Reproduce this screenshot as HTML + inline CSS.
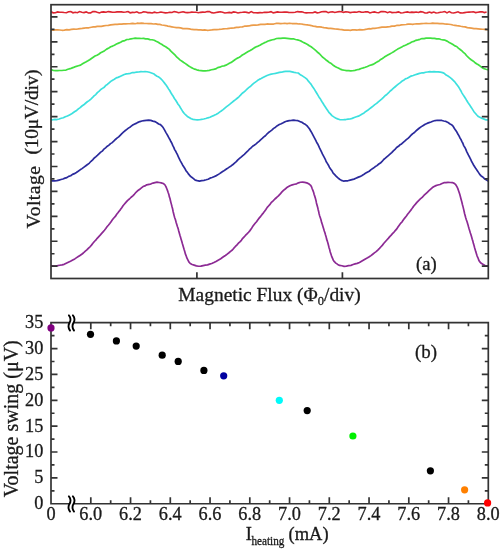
<!DOCTYPE html><html><head><meta charset="utf-8"><style>html,body{margin:0;padding:0;background:#fff;width:504px;height:550px;overflow:hidden}svg{display:block}</style></head><body><svg width="504" height="550" viewBox="0 0 504 550">
<rect width="504" height="550" fill="#fff"/>
<defs><clipPath id="ca"><rect x="51" y="4.7" width="437.3" height="273.8"/></clipPath></defs>
<g clip-path="url(#ca)"><path d="M51.0,11.75 L53.2,12.82 L55.4,12.70 L57.6,11.93 L59.8,12.29 L62.0,12.22 L64.2,12.53 L66.4,12.73 L68.6,11.69 L70.8,11.59 L73.0,12.80 L75.2,12.20 L77.4,12.69 L79.6,11.55 L81.8,12.22 L84.0,12.63 L86.2,11.89 L88.4,12.97 L90.6,12.90 L92.8,11.60 L95.0,11.59 L97.2,12.36 L99.4,12.96 L101.6,12.12 L103.8,11.87 L106.0,12.18 L108.2,11.59 L110.4,11.88 L112.6,12.21 L114.8,12.29 L117.0,11.90 L119.2,11.90 L121.4,11.88 L123.6,12.24 L125.8,11.98 L128.0,11.58 L130.2,12.81 L132.4,12.38 L134.6,12.51 L136.8,11.83 L139.0,13.04 L141.2,12.84 L143.4,11.73 L145.6,12.05 L147.8,12.63 L150.0,12.62 L152.2,12.95 L154.4,12.18 L156.6,12.80 L158.8,12.56 L161.0,12.01 L163.2,12.43 L165.4,12.87 L167.6,12.82 L169.8,12.31 L172.0,12.43 L174.2,11.60 L176.4,11.91 L178.6,12.75 L180.8,12.17 L183.0,11.81 L185.2,12.37 L187.4,12.60 L189.6,12.56 L191.8,12.11 L194.0,12.21 L196.2,12.31 L198.4,12.72 L200.6,12.33 L202.8,12.14 L205.0,12.28 L207.2,11.59 L209.4,11.62 L211.6,12.61 L213.8,13.02 L216.0,12.44 L218.2,12.14 L220.4,11.81 L222.6,12.30 L224.8,13.02 L227.0,12.71 L229.2,12.36 L231.4,12.84 L233.6,11.90 L235.8,12.32 L238.0,12.98 L240.2,12.42 L242.4,12.24 L244.6,11.95 L246.8,12.37 L249.0,12.99 L251.2,11.56 L253.4,12.73 L255.6,12.78 L257.8,12.88 L260.0,12.66 L262.2,12.76 L264.4,12.33 L266.6,12.39 L268.8,12.19 L271.0,11.63 L273.2,12.86 L275.4,12.40 L277.6,11.85 L279.8,12.31 L282.0,12.28 L284.2,12.09 L286.4,12.07 L288.6,12.36 L290.8,12.49 L293.0,12.47 L295.2,12.24 L297.4,11.59 L299.6,11.89 L301.8,11.82 L304.0,12.43 L306.2,12.84 L308.4,12.75 L310.6,12.75 L312.8,12.77 L315.0,11.93 L317.2,12.81 L319.4,12.56 L321.6,11.67 L323.8,11.58 L326.0,11.57 L328.2,12.68 L330.4,11.92 L332.6,11.71 L334.8,12.49 L337.0,12.07 L339.2,11.65 L341.4,11.79 L343.6,12.34 L345.8,11.80 L348.0,11.96 L350.2,12.62 L352.4,12.23 L354.6,12.03 L356.8,12.26 L359.0,11.59 L361.2,12.13 L363.4,12.18 L365.6,11.83 L367.8,11.71 L370.0,12.90 L372.2,12.32 L374.4,11.86 L376.6,12.46 L378.8,12.78 L381.0,11.58 L383.2,11.58 L385.4,11.77 L387.6,12.63 L389.8,11.79 L392.0,12.61 L394.2,12.57 L396.4,12.37 L398.6,11.88 L400.8,13.01 L403.0,12.75 L405.2,12.32 L407.4,11.88 L409.6,12.52 L411.8,12.14 L414.0,12.41 L416.2,12.03 L418.4,12.50 L420.6,11.64 L422.8,12.00 L425.0,13.00 L427.2,12.86 L429.4,12.01 L431.6,12.84 L433.8,12.02 L436.0,12.96 L438.2,12.67 L440.4,12.17 L442.6,11.93 L444.8,11.56 L447.0,12.87 L449.2,11.61 L451.4,12.78 L453.6,12.99 L455.8,12.41 L458.0,11.81 L460.2,12.85 L462.4,13.01 L464.6,12.61 L466.8,12.31 L469.0,12.12 L471.2,12.07 L473.4,11.86 L475.6,12.56 L477.8,12.20 L480.0,11.84 L482.2,11.71 L484.4,12.55 L486.6,11.99" stroke="#dc2430" stroke-width="1.6" fill="none"/><path d="M26.61,26.66 L28.74,26.92 L30.93,27.59 L33.24,27.63 L35.53,28.03 L37.97,28.64 L40.15,28.42 L42.18,28.91 L44.48,28.99 L46.64,29.29 L48.98,29.62 L51.17,29.85 L53.67,30.11 L55.61,29.75 L57.53,29.87 L59.67,30.00 L61.97,30.28 L64.33,30.04 L66.71,29.68 L69.10,29.92 L71.40,29.42 L73.81,29.10 L76.20,29.26 L78.22,28.93 L80.25,28.55 L82.21,28.46 L84.22,28.11 L86.62,27.78 L88.89,27.79 L91.37,27.27 L93.28,26.93 L95.26,26.89 L97.26,26.42 L99.30,26.23 L101.31,26.31 L103.70,25.84 L106.00,25.51 L108.32,25.36 L110.71,24.87 L113.02,24.65 L115.09,24.41 L117.21,24.40 L119.28,24.22 L121.58,24.13 L123.68,23.82 L125.72,23.92 L128.08,23.77 L130.45,23.71 L132.80,23.42 L135.19,23.73 L137.19,23.21 L139.13,23.42 L141.52,23.20 L143.90,23.43 L146.40,23.52 L148.69,23.58 L151.06,23.66 L153.46,23.98 L155.83,23.92 L157.82,24.41 L159.75,24.39 L161.82,24.97 L163.82,25.28 L165.83,25.56 L167.80,26.16 L169.72,26.46 L171.74,26.83 L173.98,27.24 L176.41,27.67 L178.45,27.65 L180.58,27.88 L183.01,28.57 L185.01,28.51 L187.05,28.65 L189.50,28.85 L191.78,29.47 L194.06,29.62 L196.37,29.70 L198.68,29.93 L200.70,29.84 L202.68,30.11 L204.72,29.95 L207.11,30.28 L209.52,30.10 L211.76,29.88 L214.13,29.55 L216.52,29.57 L218.97,29.43 L221.27,29.24 L223.30,28.95 L225.26,28.73 L227.28,28.68 L229.30,28.32 L231.68,28.03 L234.07,27.81 L236.46,27.31 L238.44,27.33 L240.47,26.98 L242.34,26.83 L244.45,26.20 L246.37,26.11 L248.80,25.96 L251.10,25.44 L253.45,25.10 L255.89,25.22 L258.15,24.84 L260.65,24.32 L262.67,24.28 L264.89,24.39 L266.94,23.97 L269.22,24.07 L271.23,24.09 L273.64,24.04 L275.91,23.46 L278.33,23.36 L280.71,23.68 L282.69,23.49 L284.66,23.24 L287.11,23.59 L289.54,23.22 L291.89,23.53 L294.17,23.56 L296.57,23.61 L298.87,23.97 L301.33,24.01 L303.33,24.44 L305.25,24.68 L307.35,24.80 L309.31,25.21 L311.24,25.54 L313.20,26.14 L315.18,26.35 L317.21,26.87 L319.59,26.97 L321.85,27.21 L323.81,27.66 L326.12,27.83 L328.44,28.43 L330.54,28.43 L332.68,28.58 L335.06,29.02 L337.18,29.12 L339.52,29.45 L341.88,29.68 L344.24,30.04 L346.15,30.15 L348.21,30.00 L350.21,30.29 L352.57,29.89 L355.03,29.84 L357.27,30.03 L359.67,29.67 L362.08,29.78 L364.40,29.57 L366.82,29.19 L368.80,28.71 L370.75,28.85 L372.83,28.36 L374.82,28.33 L377.19,27.99 L379.50,27.63 L381.98,27.20 L383.95,27.12 L385.83,27.03 L387.83,26.83 L389.88,26.65 L391.93,26.13 L394.29,26.15 L396.58,25.45 L398.97,25.46 L401.31,24.88 L403.71,24.76 L406.07,24.49 L408.09,24.07 L410.25,23.98 L412.55,24.36 L414.61,23.98 L416.65,23.91 L419.12,23.87 L421.49,23.71 L423.73,23.52 L426.19,23.42 L428.13,23.51 L430.20,23.51 L432.57,23.19 L434.93,23.29 L437.32,23.35 L439.63,23.63 L442.01,23.49 L444.37,23.89 L446.85,24.11 L448.81,24.27 L450.84,24.48 L452.81,24.98 L454.82,25.29 L456.81,25.59 L458.71,25.83 L460.75,26.24 L462.76,26.57 L465.07,26.84 L467.34,27.61 L469.33,27.82 L471.48,28.11 L473.99,28.56 L476.11,28.72 L478.09,28.89 L480.50,29.05 L482.69,29.26 L485.03,29.36 L487.35,29.77 L489.71,30.08 L491.71,29.78 L493.72,29.95 L495.77,29.91 L498.08,30.18 L500.53,30.04 L502.81,30.06 L505.25,29.98 L507.45,29.41 L509.76,29.60 L511.93,29.25 L512.75,29.31" stroke="#eb9c4a" stroke-width="1.7" fill="none" stroke-linejoin="round"/><path d="M21.89,47.93 L23.59,49.32 L25.15,50.82 L26.81,52.32 L28.42,53.93 L29.84,55.23 L31.34,57.06 L32.93,58.17 L34.76,60.15 L36.48,61.23 L38.17,62.07 L40.00,63.29 L41.79,64.72 L43.61,66.17 L45.42,67.51 L47.20,68.36 L49.25,69.19 L51.32,69.63 L53.45,70.49 L55.55,70.71 L57.57,70.63 L59.67,70.52 L61.84,70.52 L63.93,70.24 L66.01,70.07 L67.93,69.24 L70.16,68.69 L72.28,67.84 L74.24,67.16 L76.41,66.32 L78.36,65.70 L80.57,65.10 L82.54,63.81 L84.34,62.73 L86.24,61.74 L87.98,60.75 L89.69,59.69 L91.45,58.45 L93.23,57.23 L95.01,56.09 L96.93,55.29 L98.71,54.21 L100.65,52.76 L102.75,51.66 L104.64,50.64 L106.68,49.13 L108.81,48.03 L110.73,46.83 L112.58,46.09 L114.41,45.19 L116.49,44.10 L118.65,43.12 L120.65,42.33 L122.66,41.07 L124.86,40.58 L126.86,39.52 L129.04,39.29 L131.03,38.90 L133.19,38.49 L135.19,38.10 L137.23,38.46 L139.36,38.34 L141.46,38.48 L143.58,38.36 L145.57,38.80 L147.65,38.86 L150.00,39.59 L152.15,39.76 L154.21,40.22 L156.12,41.25 L158.22,42.26 L160.11,43.52 L162.01,44.46 L163.78,45.83 L165.68,46.76 L167.43,47.94 L169.12,49.11 L170.87,51.15 L172.44,52.58 L173.82,53.85 L175.39,55.44 L176.88,57.15 L178.34,58.42 L180.23,60.12 L181.99,61.27 L183.76,62.52 L185.48,63.60 L187.40,65.04 L189.17,66.33 L190.98,67.38 L192.71,68.23 L194.76,69.16 L196.76,69.81 L198.95,70.43 L201.03,70.55 L203.13,70.81 L205.19,70.91 L207.24,70.69 L209.31,70.34 L211.43,69.77 L213.53,69.38 L215.61,68.92 L217.67,67.65 L219.77,67.19 L221.82,66.27 L223.99,65.86 L225.99,65.16 L228.07,64.02 L229.86,62.91 L231.75,62.11 L233.53,60.71 L235.25,59.48 L236.95,58.38 L238.83,57.44 L240.59,56.43 L242.33,54.98 L244.23,53.90 L246.15,52.77 L248.21,51.59 L250.17,50.57 L252.30,49.22 L254.20,47.88 L256.31,46.81 L258.18,46.09 L259.92,45.28 L261.94,43.94 L264.08,42.89 L266.19,42.02 L268.15,41.01 L270.31,40.39 L272.42,39.75 L274.55,39.30 L276.60,38.52 L278.63,38.28 L280.63,38.29 L282.83,38.06 L284.87,38.16 L287.03,38.33 L289.08,38.60 L291.10,38.84 L293.27,38.79 L295.56,39.53 L297.57,39.85 L299.67,40.57 L301.68,41.40 L303.78,42.63 L305.72,43.56 L307.52,44.49 L309.33,45.80 L311.13,46.79 L312.86,48.10 L314.75,49.58 L316.44,51.09 L317.88,52.56 L319.45,53.70 L320.83,55.29 L322.41,57.04 L323.90,58.16 L325.74,59.70 L327.50,61.01 L329.20,62.46 L330.95,63.33 L332.84,64.96 L334.74,66.28 L336.49,67.34 L338.26,68.08 L340.21,69.12 L342.29,69.85 L344.40,70.25 L346.55,70.63 L348.57,70.71 L350.75,70.94 L352.76,70.74 L354.95,70.31 L356.95,69.75 L359.01,69.39 L361.11,68.47 L363.27,67.90 L365.29,67.25 L367.38,66.43 L369.45,65.56 L371.50,64.92 L373.67,64.15 L375.37,62.94 L377.14,61.87 L379.02,60.97 L380.73,59.48 L382.46,58.44 L384.35,57.08 L386.10,55.97 L387.81,55.00 L389.76,53.93 L391.67,52.87 L393.63,51.71 L395.64,50.41 L397.69,49.09 L399.77,48.08 L401.74,47.00 L403.65,45.88 L405.41,45.20 L407.53,44.14 L409.64,43.19 L411.70,42.02 L413.74,41.40 L415.86,40.33 L417.87,39.88 L419.96,39.32 L422.13,38.49 L424.09,38.55 L426.16,38.10 L428.35,38.19 L430.45,38.05 L432.48,38.41 L434.49,38.32 L436.65,38.90 L438.78,38.80 L440.99,39.54 L443.13,39.96 L445.10,40.15 L447.14,41.13 L449.23,42.49 L451.17,43.41 L452.95,44.49 L454.85,45.88 L456.67,46.48 L458.33,48.13 L460.17,49.48 L461.91,50.93 L463.41,52.32 L464.91,53.54 L466.43,55.50 L467.85,56.88 L469.44,58.35 L471.14,59.75 L472.96,60.93 L474.78,62.46 L476.53,63.69 L478.36,64.80 L480.20,66.19 L482.00,67.49 L483.66,68.49 L485.79,69.25 L487.87,69.69 L489.93,70.43 L492.03,70.74 L494.13,70.72 L496.23,70.52 L498.28,70.55 L500.31,70.22 L502.46,69.96 L504.46,69.61 L506.62,68.63 L508.73,67.93 L510.80,67.04 L512.84,66.49 L514.80,65.88 L516.77,64.86 L516.72,65.22" stroke="#40e040" stroke-width="1.7" fill="none" stroke-linejoin="round"/><path d="M21.90,87.08 L22.98,88.55 L24.07,90.61 L25.46,93.02 L26.88,95.12 L28.11,97.16 L29.24,98.98 L30.45,101.15 L31.64,103.03 L32.84,104.83 L34.07,106.50 L35.33,108.11 L36.39,110.35 L37.63,111.64 L39.18,113.96 L40.55,115.24 L42.41,116.64 L44.30,117.69 L46.25,118.62 L48.28,119.69 L50.49,119.76 L52.79,119.79 L54.87,119.37 L57.03,119.54 L59.17,118.98 L61.18,118.29 L63.32,117.79 L65.29,116.80 L67.39,116.04 L69.54,114.97 L71.23,114.09 L73.09,112.81 L74.85,111.55 L76.65,110.41 L78.37,108.92 L80.15,107.60 L81.93,106.00 L83.78,104.78 L85.54,103.26 L87.33,101.73 L89.10,100.63 L90.87,99.12 L92.37,97.73 L94.03,95.83 L95.78,94.57 L97.37,92.62 L99.18,91.12 L100.80,89.50 L102.47,88.40 L104.28,87.22 L105.81,85.40 L107.30,84.45 L109.12,82.83 L110.77,81.35 L112.59,80.17 L114.36,79.27 L116.26,77.93 L117.96,77.39 L120.02,76.44 L122.12,75.43 L124.23,74.47 L126.27,73.94 L128.43,73.70 L130.43,73.32 L132.53,72.55 L134.60,72.53 L136.70,72.05 L138.87,71.98 L140.94,71.57 L142.99,71.76 L145.07,71.63 L147.08,71.73 L149.37,72.28 L151.49,72.97 L153.53,73.70 L155.19,75.03 L157.01,76.21 L158.85,77.05 L160.45,78.36 L162.06,80.01 L163.50,81.72 L164.95,83.63 L166.23,85.23 L167.36,86.95 L168.56,88.89 L169.71,90.50 L170.91,92.77 L172.15,94.74 L173.37,96.53 L174.42,98.52 L175.69,100.30 L176.93,102.31 L178.07,104.19 L179.37,105.85 L180.46,107.79 L181.62,109.67 L182.80,111.64 L184.31,113.49 L185.75,114.98 L187.36,116.46 L189.15,117.49 L191.25,118.77 L193.11,119.39 L195.27,119.68 L197.42,119.92 L199.55,119.74 L201.63,119.37 L203.73,119.00 L205.80,118.53 L207.87,117.82 L209.93,117.30 L211.99,116.21 L214.14,115.34 L215.96,114.51 L217.69,113.56 L219.56,112.11 L221.22,111.01 L223.10,109.64 L224.85,108.15 L226.61,106.69 L228.38,105.36 L230.19,103.95 L232.04,102.39 L233.70,101.00 L235.55,99.67 L237.22,98.25 L238.94,96.77 L240.54,95.13 L242.24,93.20 L244.02,91.97 L245.61,90.52 L247.29,88.80 L248.98,87.35 L250.63,86.27 L252.20,84.68 L253.95,83.17 L255.78,81.84 L257.44,80.58 L259.30,79.36 L261.11,78.49 L262.95,77.50 L264.99,76.47 L267.05,75.52 L269.09,74.81 L271.23,74.10 L273.37,73.72 L275.45,73.36 L277.52,72.90 L279.50,72.35 L281.61,72.20 L283.75,71.63 L285.74,71.44 L287.82,71.34 L289.87,71.44 L291.95,71.81 L294.19,72.33 L296.21,72.72 L298.21,72.99 L299.92,74.45 L301.69,75.41 L303.45,76.59 L305.34,77.85 L306.86,79.09 L308.41,81.16 L309.97,82.95 L311.17,84.37 L312.27,86.35 L313.51,87.97 L314.60,89.61 L315.85,91.80 L317.07,93.80 L318.18,95.58 L319.45,97.80 L320.59,99.34 L321.82,101.45 L322.98,103.21 L324.19,105.26 L325.34,107.02 L326.64,108.93 L327.71,110.54 L328.87,112.37 L330.42,113.92 L331.92,115.60 L333.78,116.88 L335.55,117.95 L337.55,118.87 L339.56,119.56 L341.72,119.77 L343.73,119.71 L345.87,119.53 L348.06,119.20 L350.07,118.97 L352.19,118.37 L354.31,117.49 L356.38,116.74 L358.37,116.19 L360.57,115.06 L362.25,113.90 L364.07,112.97 L365.85,111.44 L367.68,110.34 L369.44,108.88 L371.27,107.48 L373.06,106.06 L374.80,104.64 L376.64,103.41 L378.33,101.85 L380.14,100.40 L381.89,98.95 L383.45,97.44 L385.02,95.75 L386.80,94.50 L388.43,92.97 L390.20,91.03 L391.89,89.71 L393.51,88.22 L395.20,86.75 L396.75,85.44 L398.30,84.13 L400.01,82.92 L401.79,81.33 L403.61,80.32 L405.35,78.91 L407.26,78.31 L409.06,77.22 L411.04,76.06 L413.18,75.47 L415.20,74.76 L417.26,74.08 L419.47,73.40 L421.50,72.97 L423.59,72.85 L425.63,72.26 L427.62,71.99 L429.78,71.70 L431.84,71.82 L433.98,71.59 L436.08,71.79 L438.11,71.82 L440.39,72.19 L442.62,72.63 L444.51,73.57 L446.15,75.07 L447.97,76.02 L449.91,77.37 L451.48,78.59 L453.02,80.10 L454.52,81.59 L455.97,83.41 L457.15,85.05 L458.47,86.82 L459.60,88.62 L460.83,90.72 L461.89,92.84 L463.17,94.89 L464.26,96.55 L465.52,98.42 L466.71,100.57 L467.94,102.55 L469.14,104.17 L470.34,106.07 L471.44,107.66 L472.68,109.63 L473.78,111.43 L475.30,113.30 L476.81,115.02 L478.34,116.54 L480.25,117.41 L482.26,118.51 L484.22,119.15 L486.20,119.95 L488.42,119.94 L490.44,119.52 L492.67,119.23 L494.65,119.05 L496.85,118.69 L498.97,118.14 L500.96,117.49 L503.00,116.22 L505.17,115.64 L506.92,114.45 L508.66,113.23 L510.44,112.00 L512.42,111.03 L514.19,109.53 L515.93,108.11 L516.74,107.60" stroke="#3ce0de" stroke-width="1.7" fill="none" stroke-linejoin="round"/><path d="M23.06,137.09 L24.28,139.52 L25.16,141.15 L26.22,143.32 L27.42,145.54 L28.49,147.81 L29.47,149.97 L30.50,151.98 L31.32,153.74 L32.28,155.96 L33.32,157.82 L34.27,159.65 L35.23,161.48 L36.41,163.83 L37.44,165.54 L38.46,167.11 L39.77,169.31 L41.02,171.14 L42.25,173.15 L43.71,174.87 L45.28,176.40 L46.87,177.77 L48.57,179.06 L50.34,180.42 L52.30,180.86 L54.60,180.84 L56.83,180.64 L59.07,180.07 L60.99,179.55 L62.90,179.01 L64.95,178.16 L66.84,177.62 L68.66,176.35 L70.68,175.75 L72.54,174.39 L74.39,173.65 L76.36,172.45 L78.17,171.23 L80.12,169.83 L82.01,168.59 L84.00,167.11 L85.86,165.72 L87.83,164.29 L89.40,163.04 L91.04,161.29 L92.66,159.84 L94.25,158.01 L95.72,156.81 L97.35,155.38 L98.95,153.88 L100.74,152.16 L102.25,151.12 L103.87,149.21 L105.57,147.80 L107.35,146.22 L108.97,145.15 L110.52,143.63 L112.20,142.63 L113.80,141.01 L115.42,139.49 L116.93,138.15 L118.66,136.82 L120.17,135.32 L121.86,133.62 L123.42,132.20 L124.96,130.79 L126.54,129.55 L128.39,128.13 L130.29,126.96 L132.27,125.34 L134.21,124.26 L136.09,123.38 L137.99,122.36 L139.93,121.56 L141.91,120.98 L144.15,120.56 L146.35,120.35 L148.58,120.11 L150.77,120.41 L152.87,121.11 L154.88,121.62 L156.89,122.70 L158.68,124.00 L160.47,124.67 L161.91,126.08 L163.30,127.85 L164.49,129.91 L165.84,132.37 L166.87,134.11 L167.97,136.03 L168.92,137.80 L169.87,139.48 L170.86,141.55 L171.87,143.18 L172.71,145.40 L173.77,147.41 L174.65,149.59 L175.60,151.07 L176.51,152.97 L177.56,154.94 L178.50,157.22 L179.48,159.07 L180.34,160.80 L181.35,162.61 L182.58,164.96 L183.56,166.47 L185.03,168.79 L186.21,171.00 L187.42,172.37 L188.62,174.15 L190.15,176.00 L191.75,177.29 L193.51,178.62 L195.24,180.16 L197.24,180.68 L199.42,181.13 L201.74,180.58 L203.95,180.34 L206.17,179.76 L208.07,179.21 L210.01,178.14 L212.00,177.45 L213.96,176.68 L215.82,175.91 L217.67,174.85 L219.61,173.62 L221.55,172.26 L223.45,171.08 L225.37,169.77 L227.17,168.58 L229.22,167.10 L231.08,165.94 L232.96,164.50 L234.53,163.17 L236.27,161.63 L237.85,159.86 L239.53,158.42 L241.06,157.12 L242.53,155.78 L244.34,154.28 L246.05,152.69 L247.60,151.21 L249.17,149.45 L250.77,148.13 L252.62,146.27 L254.19,145.29 L255.78,144.11 L257.44,142.61 L259.02,141.30 L260.58,139.84 L262.24,138.41 L263.85,136.91 L265.41,135.74 L267.01,133.97 L268.52,132.55 L270.17,131.32 L271.81,130.12 L273.64,128.37 L275.54,127.18 L277.37,125.65 L279.30,124.51 L281.25,123.75 L283.16,122.82 L285.09,121.71 L287.11,121.06 L289.22,120.57 L291.49,120.38 L293.79,120.13 L295.93,120.50 L297.97,120.65 L299.95,121.59 L301.86,122.31 L303.57,123.44 L305.20,124.33 L306.87,125.61 L308.19,127.21 L309.39,128.79 L310.70,131.03 L311.70,132.68 L312.73,134.65 L313.78,136.61 L314.71,138.31 L315.64,140.16 L316.61,142.22 L317.70,143.92 L318.63,145.92 L319.52,147.85 L320.49,149.80 L321.48,151.96 L322.38,153.95 L323.30,155.69 L324.26,157.42 L325.28,159.32 L326.11,161.48 L327.49,163.63 L328.43,165.23 L329.38,167.15 L330.75,169.17 L332.11,171.09 L333.18,173.13 L334.68,174.58 L336.31,176.31 L337.95,177.91 L339.62,179.27 L341.42,180.40 L343.35,181.04 L345.60,180.83 L347.81,180.79 L350.09,180.16 L352.00,179.64 L353.94,179.10 L355.90,178.24 L357.85,177.38 L359.73,176.65 L361.67,175.70 L363.58,174.59 L365.41,173.31 L367.26,172.27 L369.21,171.25 L371.07,169.64 L373.10,168.34 L375.03,166.83 L376.94,165.63 L378.83,164.02 L380.41,163.07 L382.10,161.43 L383.70,159.52 L385.34,158.12 L386.81,156.80 L388.32,155.54 L389.96,154.14 L391.70,152.60 L393.34,150.84 L394.99,149.32 L396.61,147.54 L398.45,146.31 L399.95,144.79 L401.58,143.93 L403.26,142.38 L404.72,141.18 L406.35,139.71 L408.00,138.38 L409.55,136.85 L411.24,134.99 L412.82,133.63 L414.44,132.51 L416.02,130.90 L417.60,129.50 L419.46,127.99 L421.38,126.62 L423.26,125.42 L425.18,124.19 L427.03,123.42 L429.05,122.66 L430.97,121.99 L432.81,121.24 L435.12,120.54 L437.33,120.27 L439.66,120.44 L441.83,120.47 L443.76,120.98 L445.95,121.43 L447.97,122.42 L449.68,123.78 L451.50,124.66 L452.97,126.07 L454.27,128.18 L455.46,130.09 L456.86,132.08 L457.88,134.02 L458.99,135.86 L459.85,137.73 L460.89,139.41 L461.81,141.36 L462.84,143.26 L463.71,145.58 L464.72,147.18 L465.74,149.16 L466.61,151.34 L467.60,153.41 L468.47,155.17 L469.52,157.02 L470.44,158.90 L471.38,160.97 L472.28,162.62 L473.58,165.02 L474.66,166.75 L476.01,168.86 L477.31,170.69 L478.44,172.40 L479.71,174.37 L481.14,175.93 L482.77,176.96 L484.41,178.70 L486.15,179.80 L488.21,181.03 L490.42,181.02 L492.72,180.52 L494.99,180.21 L497.16,179.78 L499.17,178.81 L501.13,178.10 L502.94,177.46 L504.95,176.80 L506.86,175.70 L508.66,174.58 L510.47,173.49 L512.15,172.78 L512.84,172.39" stroke="#2a2a9c" stroke-width="1.7" fill="none" stroke-linejoin="round"/><path d="M21.24,188.80 L22.03,190.90 L22.63,192.48 L23.33,194.62 L23.90,196.74 L24.46,198.82 L24.96,200.74 L25.62,202.98 L26.06,205.30 L26.67,207.20 L27.21,209.68 L27.66,211.82 L28.16,213.80 L28.72,215.97 L29.44,218.09 L30.13,220.33 L30.80,222.79 L31.49,224.53 L32.13,226.97 L32.69,228.88 L33.38,231.18 L33.92,233.37 L34.50,235.47 L35.12,237.05 L35.81,239.26 L36.36,241.43 L37.06,243.67 L37.65,245.91 L38.19,248.17 L38.83,250.27 L39.44,252.32 L40.06,254.08 L40.80,256.27 L41.68,258.75 L42.48,260.35 L43.88,262.38 L45.31,263.84 L47.28,264.69 L49.20,265.51 L51.27,265.81 L53.35,265.95 L55.43,266.00 L57.57,265.69 L59.78,265.23 L62.10,264.82 L64.12,264.32 L66.25,263.15 L68.33,262.15 L70.48,261.15 L72.73,260.00 L74.79,258.90 L76.62,257.65 L78.31,256.53 L79.99,255.44 L81.74,254.27 L83.37,253.00 L85.05,251.36 L86.84,249.92 L88.57,248.09 L89.99,246.77 L91.30,245.38 L92.70,243.54 L94.36,241.50 L95.76,240.20 L97.18,238.35 L98.59,236.86 L99.94,235.44 L101.44,233.62 L103.06,231.82 L104.46,230.22 L105.80,228.56 L107.02,226.81 L108.34,225.27 L109.77,223.48 L111.10,221.64 L112.38,219.80 L113.83,218.01 L115.33,216.41 L116.53,214.59 L117.94,212.83 L119.09,211.27 L120.42,209.61 L121.75,207.82 L123.03,205.78 L124.29,204.31 L125.90,202.37 L127.69,200.36 L129.39,199.03 L131.12,197.25 L132.81,195.85 L134.52,194.06 L136.28,192.04 L138.02,190.49 L139.72,189.28 L141.41,187.87 L143.06,186.55 L144.90,185.91 L146.73,184.81 L149.06,184.45 L151.13,183.82 L153.02,183.07 L154.95,182.60 L157.00,182.17 L159.18,182.50 L161.23,182.86 L163.26,183.53 L164.75,184.61 L165.93,186.58 L166.71,188.53 L167.42,190.35 L168.06,192.28 L168.78,194.19 L169.30,196.59 L169.92,198.19 L170.48,200.69 L171.00,202.86 L171.49,204.65 L172.09,207.07 L172.64,209.08 L173.11,211.48 L173.61,213.57 L174.18,215.86 L174.71,217.72 L175.46,219.81 L176.09,222.23 L176.78,224.50 L177.48,226.77 L178.16,228.61 L178.74,230.96 L179.37,233.14 L179.93,235.23 L180.48,237.07 L181.10,239.15 L181.74,241.17 L182.44,243.75 L183.03,245.74 L183.60,247.80 L184.12,249.60 L184.82,251.81 L185.35,253.90 L186.17,255.84 L186.84,257.90 L187.86,259.89 L188.85,261.94 L190.27,263.49 L192.16,264.44 L194.13,265.09 L196.40,265.84 L198.54,266.23 L200.85,266.18 L203.16,265.62 L205.36,265.18 L207.53,264.91 L209.64,264.11 L211.72,263.46 L213.91,262.50 L215.96,261.41 L218.11,260.15 L220.29,259.05 L222.00,257.74 L223.77,256.54 L225.41,255.47 L227.25,254.07 L228.93,252.75 L230.54,251.40 L232.34,250.04 L234.05,247.95 L235.42,246.47 L236.77,245.10 L238.17,243.42 L239.89,241.84 L241.36,240.31 L242.72,238.31 L244.17,236.79 L245.43,235.46 L246.99,233.92 L248.60,232.23 L249.95,230.62 L251.27,228.84 L252.47,226.83 L253.78,225.02 L255.36,223.08 L256.54,221.68 L257.91,219.70 L259.33,217.90 L260.69,216.35 L262.12,214.41 L263.44,212.84 L264.61,211.32 L265.89,209.52 L267.25,207.41 L268.52,205.96 L269.75,204.63 L271.45,202.31 L273.11,200.80 L274.89,198.99 L276.65,197.48 L278.41,195.83 L280.05,194.18 L281.73,192.10 L283.47,190.39 L285.22,188.98 L286.84,187.59 L288.55,186.59 L290.47,185.45 L292.28,184.87 L294.56,184.26 L296.59,183.81 L298.50,182.85 L300.44,182.27 L302.59,182.09 L304.67,182.39 L306.78,182.89 L308.69,183.79 L310.36,185.06 L311.40,186.57 L312.20,188.70 L312.97,190.62 L313.58,192.33 L314.15,194.43 L314.83,196.40 L315.44,198.59 L316.02,200.68 L316.44,202.94 L316.93,204.75 L317.62,207.18 L318.12,209.42 L318.58,211.16 L319.10,213.74 L319.61,215.65 L320.24,217.57 L320.97,219.71 L321.58,222.41 L322.26,224.18 L323.00,226.76 L323.63,228.82 L324.28,230.93 L324.92,232.83 L325.46,234.76 L326.08,236.69 L326.61,239.11 L327.32,241.11 L327.95,243.35 L328.53,245.56 L329.13,247.92 L329.68,249.59 L330.23,252.01 L330.92,253.97 L331.59,256.06 L332.44,258.14 L333.30,260.20 L334.39,261.68 L335.82,263.08 L337.73,264.42 L339.57,265.43 L341.86,265.78 L344.06,266.32 L346.40,266.04 L348.53,265.67 L350.92,265.33 L353.10,264.55 L355.08,263.88 L357.21,263.40 L359.47,262.46 L361.54,261.22 L363.66,259.94 L365.82,258.66 L367.60,257.77 L369.25,256.77 L370.95,255.58 L372.71,254.21 L374.39,252.89 L376.13,251.67 L377.78,250.13 L379.49,248.40 L380.98,246.78 L382.28,245.36 L383.69,243.53 L385.46,241.49 L386.82,239.96 L388.28,238.33 L389.54,236.83 L390.95,235.43 L392.45,233.59 L394.04,232.04 L395.44,230.43 L396.81,228.83 L397.96,226.94 L399.25,225.17 L400.83,223.02 L402.10,221.82 L403.42,219.76 L404.89,217.86 L406.23,216.28 L407.60,214.33 L408.83,212.81 L410.21,210.94 L411.45,209.38 L412.66,207.62 L414.02,205.80 L415.25,204.40 L416.90,202.39 L418.63,200.56 L420.33,198.92 L422.17,197.42 L423.91,195.49 L425.60,193.90 L427.29,192.27 L428.99,190.58 L430.71,189.05 L432.39,187.53 L434.11,186.43 L435.91,185.63 L437.82,185.03 L439.96,184.51 L442.03,183.58 L443.96,182.71 L445.92,182.62 L447.99,182.31 L450.18,182.52 L452.30,182.58 L454.26,183.39 L455.74,184.71 L456.90,186.63 L457.75,188.37 L458.47,190.41 L459.17,192.43 L459.75,194.29 L460.30,196.20 L460.87,198.54 L461.41,200.58 L461.96,202.54 L462.48,204.79 L463.12,207.14 L463.60,209.13 L464.09,211.31 L464.63,213.76 L465.12,215.58 L465.72,217.75 L466.35,219.67 L467.15,221.92 L467.88,224.41 L468.51,226.82 L469.15,229.01 L469.69,230.66 L470.36,233.09 L470.97,234.81 L471.56,236.82 L472.24,239.30 L472.85,241.12 L473.36,243.32 L474.05,245.56 L474.55,247.53 L475.21,249.66 L475.73,251.60 L476.34,253.54 L477.14,256.09 L477.96,257.78 L478.81,260.23 L479.88,261.93 L481.25,263.32 L483.24,264.46 L485.05,265.52 L487.40,265.77 L489.53,265.93 L491.93,266.12 L494.12,265.71 L496.40,265.28 L498.46,264.61 L500.60,264.24 L502.71,263.51 L504.91,262.12 L507.10,261.52 L508.90,260.24 L510.90,258.81 L512.76,258.00 L514.65,256.47 L515.15,256.19" stroke="#8c2a94" stroke-width="1.7" fill="none" stroke-linejoin="round"/></g>
<g stroke="#333" stroke-width="1.7" fill="none">
<rect x="51" y="4.7" width="437.3" height="273.8"/>
<path d="M51,16.90h6.5M488.3,16.90h-6.5M51,41.83h6.5M488.3,41.83h-6.5M51,66.76h6.5M488.3,66.76h-6.5M51,91.69h6.5M488.3,91.69h-6.5M51,116.62h6.5M488.3,116.62h-6.5M51,141.55h6.5M488.3,141.55h-6.5M51,166.48h6.5M488.3,166.48h-6.5M51,191.41h6.5M488.3,191.41h-6.5M51,216.34h6.5M488.3,216.34h-6.5M51,241.27h6.5M488.3,241.27h-6.5M51,266.20h6.5M488.3,266.20h-6.5M51,29.36h3.5M488.3,29.36h-3.5M51,54.30h3.5M488.3,54.30h-3.5M51,79.22h3.5M488.3,79.22h-3.5M51,104.16h3.5M488.3,104.16h-3.5M51,129.09h3.5M488.3,129.09h-3.5M51,154.01h3.5M488.3,154.01h-3.5M51,178.94h3.5M488.3,178.94h-3.5M51,203.88h3.5M488.3,203.88h-3.5M51,228.81h3.5M488.3,228.81h-3.5M51,253.74h3.5M488.3,253.74h-3.5M196.9,4.7v6.3M196.9,278.5v-6.3M342.4,4.7v6.3M342.4,278.5v-6.3"/>
<path d="M51,322.70V503.75H69.20M73.80,503.75H488.3V322.70H73.80M69.20,322.70H51" stroke-linecap="square"/>
<path d="M51,477.89h6.5M488.3,477.89h-6.5M51,452.02h6.5M488.3,452.02h-6.5M51,426.16h6.5M488.3,426.16h-6.5M51,400.29h6.5M488.3,400.29h-6.5M51,374.43h6.5M488.3,374.43h-6.5M51,348.56h6.5M488.3,348.56h-6.5M51,490.82h3.5M488.3,490.82h-3.5M51,464.95h3.5M488.3,464.95h-3.5M51,439.09h3.5M488.3,439.09h-3.5M51,413.23h3.5M488.3,413.23h-3.5M51,387.36h3.5M488.3,387.36h-3.5M51,361.50h3.5M488.3,361.50h-3.5M51,335.63h3.5M488.3,335.63h-3.5M90.80,503.75v-6.5M90.80,322.70v6.5M130.55,503.75v-6.5M130.55,322.70v6.5M170.30,503.75v-6.5M170.30,322.70v6.5M210.05,503.75v-6.5M210.05,322.70v6.5M249.80,503.75v-6.5M249.80,322.70v6.5M289.55,503.75v-6.5M289.55,322.70v6.5M329.30,503.75v-6.5M329.30,322.70v6.5M369.05,503.75v-6.5M369.05,322.70v6.5M408.80,503.75v-6.5M408.80,322.70v6.5M448.55,503.75v-6.5M448.55,322.70v6.5M110.67,503.75v-3.5M110.67,322.70v3.5M150.42,503.75v-3.5M150.42,322.70v3.5M190.18,503.75v-3.5M190.18,322.70v3.5M229.92,503.75v-3.5M229.92,322.70v3.5M269.67,503.75v-3.5M269.67,322.70v3.5M309.42,503.75v-3.5M309.42,322.70v3.5M349.17,503.75v-3.5M349.17,322.70v3.5M388.93,503.75v-3.5M388.93,322.70v3.5M428.67,503.75v-3.5M428.67,322.70v3.5M468.42,503.75v-3.5M468.42,322.70v3.5"/>
</g>
<g stroke="#000" stroke-width="1.9" fill="none" stroke-linecap="round">
<path d="M68.90,315.30 C70.90,317.30 70.90,320.90 69.50,322.90 C68.10,324.90 68.10,328.40 70.00,330.50"/>
<path d="M68.90,496.35 C70.90,498.35 70.90,501.95 69.50,503.95 C68.10,505.95 68.10,509.45 70.00,511.55"/>
<path d="M72.90,315.30 C74.90,317.30 74.90,320.90 73.50,322.90 C72.10,324.90 72.10,328.40 74.00,330.50"/>
<path d="M72.90,496.35 C74.90,498.35 74.90,501.95 73.50,503.95 C72.10,505.95 72.10,509.45 74.00,511.55"/>
</g>
<circle cx="51.0" cy="327.9" r="3.6" fill="#800080"/>
<circle cx="90.5" cy="334.3" r="3.6" fill="#000"/>
<circle cx="116.4" cy="340.9" r="3.6" fill="#000"/>
<circle cx="136.2" cy="346.1" r="3.6" fill="#000"/>
<circle cx="162.2" cy="355.2" r="3.6" fill="#000"/>
<circle cx="178.2" cy="361.4" r="3.6" fill="#000"/>
<circle cx="203.9" cy="370.4" r="3.6" fill="#000"/>
<circle cx="223.7" cy="375.8" r="3.6" fill="#0000a0"/>
<circle cx="279.3" cy="400.3" r="3.6" fill="#00fafa"/>
<circle cx="307.2" cy="410.6" r="3.6" fill="#000"/>
<circle cx="352.9" cy="436.0" r="3.6" fill="#00f000"/>
<circle cx="430.4" cy="470.8" r="3.6" fill="#000"/>
<circle cx="464.6" cy="489.8" r="3.6" fill="#ff8000"/>
<circle cx="487.6" cy="502.9" r="3.6" fill="#ff0000"/>
<g style="filter:grayscale(1)">
<text x="269.5" y="300.7" font-size="19.45" text-anchor="middle" font-family="Liberation Serif, serif" fill="#1a1a1a" stroke="#1a1a1a" stroke-width="0.3">Magnetic Flux (&#934;<tspan font-size="12.5" dy="4.3">0</tspan><tspan dy="-4.3">/div)</tspan></text>
<text x="426.4" y="270.3" font-size="18.6" text-anchor="middle" font-family="Liberation Serif, serif" fill="#1a1a1a" stroke="#1a1a1a" stroke-width="0.3">(a)</text>
<text transform="translate(39.8,228.4) rotate(-90)" font-size="19.6" textLength="62.3" lengthAdjust="spacing" font-family="Liberation Serif, serif" fill="#1a1a1a" stroke="#1a1a1a" stroke-width="0.3">Voltage</text>
<text transform="translate(38.3,154.6) rotate(-90)" font-size="19.6" textLength="85.2" lengthAdjust="spacing" font-family="Liberation Serif, serif" fill="#1a1a1a" stroke="#1a1a1a" stroke-width="0.3">(10&#956;V/div)</text>
<text x="426" y="357.9" font-size="18.9" text-anchor="middle" font-family="Liberation Serif, serif" fill="#1a1a1a" stroke="#1a1a1a" stroke-width="0.3">(b)</text>
<text transform="translate(17.6,418.75) rotate(-90)" font-size="20" text-anchor="middle" font-family="Liberation Serif, serif" fill="#1a1a1a" stroke="#1a1a1a" stroke-width="0.3">Voltage swing (&#956;V)</text>
<text x="43.4" y="509.15" font-size="18.3" text-anchor="end" font-family="Liberation Serif, serif" fill="#1a1a1a" stroke="#1a1a1a" stroke-width="0.3">0</text>
<text x="43.4" y="483.29" font-size="18.3" text-anchor="end" font-family="Liberation Serif, serif" fill="#1a1a1a" stroke="#1a1a1a" stroke-width="0.3">5</text>
<text x="43.4" y="457.42" font-size="18.3" text-anchor="end" font-family="Liberation Serif, serif" fill="#1a1a1a" stroke="#1a1a1a" stroke-width="0.3">10</text>
<text x="43.4" y="431.56" font-size="18.3" text-anchor="end" font-family="Liberation Serif, serif" fill="#1a1a1a" stroke="#1a1a1a" stroke-width="0.3">15</text>
<text x="43.4" y="405.69" font-size="18.3" text-anchor="end" font-family="Liberation Serif, serif" fill="#1a1a1a" stroke="#1a1a1a" stroke-width="0.3">20</text>
<text x="43.4" y="379.83" font-size="18.3" text-anchor="end" font-family="Liberation Serif, serif" fill="#1a1a1a" stroke="#1a1a1a" stroke-width="0.3">25</text>
<text x="43.4" y="353.96" font-size="18.3" text-anchor="end" font-family="Liberation Serif, serif" fill="#1a1a1a" stroke="#1a1a1a" stroke-width="0.3">30</text>
<text x="43.4" y="328.10" font-size="18.3" text-anchor="end" font-family="Liberation Serif, serif" fill="#1a1a1a" stroke="#1a1a1a" stroke-width="0.3">35</text>
<text x="51" y="519.8" font-size="18.3" text-anchor="middle" font-family="Liberation Serif, serif" fill="#1a1a1a" stroke="#1a1a1a" stroke-width="0.3">0</text>
<text x="90.80" y="519.8" font-size="18.3" text-anchor="middle" font-family="Liberation Serif, serif" fill="#1a1a1a" stroke="#1a1a1a" stroke-width="0.3">6.0</text>
<text x="130.55" y="519.8" font-size="18.3" text-anchor="middle" font-family="Liberation Serif, serif" fill="#1a1a1a" stroke="#1a1a1a" stroke-width="0.3">6.2</text>
<text x="170.30" y="519.8" font-size="18.3" text-anchor="middle" font-family="Liberation Serif, serif" fill="#1a1a1a" stroke="#1a1a1a" stroke-width="0.3">6.4</text>
<text x="210.05" y="519.8" font-size="18.3" text-anchor="middle" font-family="Liberation Serif, serif" fill="#1a1a1a" stroke="#1a1a1a" stroke-width="0.3">6.6</text>
<text x="249.80" y="519.8" font-size="18.3" text-anchor="middle" font-family="Liberation Serif, serif" fill="#1a1a1a" stroke="#1a1a1a" stroke-width="0.3">6.8</text>
<text x="289.55" y="519.8" font-size="18.3" text-anchor="middle" font-family="Liberation Serif, serif" fill="#1a1a1a" stroke="#1a1a1a" stroke-width="0.3">7.0</text>
<text x="329.30" y="519.8" font-size="18.3" text-anchor="middle" font-family="Liberation Serif, serif" fill="#1a1a1a" stroke="#1a1a1a" stroke-width="0.3">7.2</text>
<text x="369.05" y="519.8" font-size="18.3" text-anchor="middle" font-family="Liberation Serif, serif" fill="#1a1a1a" stroke="#1a1a1a" stroke-width="0.3">7.4</text>
<text x="408.80" y="519.8" font-size="18.3" text-anchor="middle" font-family="Liberation Serif, serif" fill="#1a1a1a" stroke="#1a1a1a" stroke-width="0.3">7.6</text>
<text x="448.55" y="519.8" font-size="18.3" text-anchor="middle" font-family="Liberation Serif, serif" fill="#1a1a1a" stroke="#1a1a1a" stroke-width="0.3">7.8</text>
<text x="488.30" y="519.8" font-size="18.3" text-anchor="middle" font-family="Liberation Serif, serif" fill="#1a1a1a" stroke="#1a1a1a" stroke-width="0.3">8.0</text>
<text x="245.7" y="540.1" font-size="18.5" font-family="Liberation Serif, serif" fill="#1a1a1a" stroke="#1a1a1a" stroke-width="0.3">I</text>
<text x="251.5" y="545.0" font-size="11.8" textLength="32.8" lengthAdjust="spacingAndGlyphs" font-family="Liberation Serif, serif" fill="#1a1a1a" stroke="#1a1a1a" stroke-width="0.3">heating</text>
<text x="288.5" y="540.2" font-size="18.5" font-family="Liberation Serif, serif" fill="#1a1a1a" stroke="#1a1a1a" stroke-width="0.3">(mA)</text>
</g>
</svg></body></html>
